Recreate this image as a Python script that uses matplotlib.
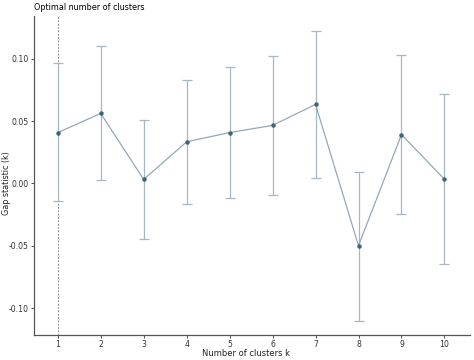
import numpy as np
from matplotlib import pyplot as plt

k = [1, 2, 3, 4, 5, 6, 7, 8, 9, 10]
gap = [0.0408, 0.0562, 0.0032, 0.0334, 0.0408, 0.0466, 0.0634, -0.0500, 0.0392, 0.0034]
upper = [0.0968, 0.1104, 0.0510, 0.0830, 0.0932, 0.1024, 0.1220, 0.0090, 0.1028, 0.0714]
lower = [-0.0144, 0.0024, -0.0444, -0.0168, -0.0118, -0.0090, 0.0046, -0.1106, -0.0248, -0.0644]
yticks = [-0.10, -0.05, 0.00, 0.05, 0.10]

gap = np.array(gap)
err = [gap - np.array(lower), np.array(upper) - gap]

fig = plt.figure(figsize=(4.74, 3.6), dpi=100)
ax = fig.add_axes([0.072, 0.07, 0.92, 0.886])

ax.axvline(1, color='#666666', linestyle=(0, (2, 2)), linewidth=0.6, zorder=1)
ax.errorbar(k, gap, yerr=err, fmt='none', ecolor='#a9b7c0', elinewidth=0.9,
            capsize=3.6, capthick=0.9, zorder=2)
ax.plot(k, gap, color='#94a8b4', linewidth=0.9, zorder=3)
ax.plot(k, gap, 'o', color='#3f6478', markersize=2.2, zorder=4)

ax.set_xlim(0.45, 10.6)
ax.set_ylim(-0.1215, 0.1345)
ax.set_xticks(k)
ax.set_yticks(yticks)
ax.set_yticklabels(['%.2f' % v for v in yticks])
ax.tick_params(labelsize=5.6, length=2.5, width=0.6, pad=1.5,
               color='#333333', labelcolor='#333333')

for side in ['top', 'right']:
    ax.spines[side].set_visible(False)
for side in ['left', 'bottom']:
    ax.spines[side].set_linewidth(0.9)
    ax.spines[side].set_color('#555555')

fig.text(0.52, 1 - 353 / 360, 'Number of clusters k', fontsize=6, ha='center', va='center',
         color='#222222')
fig.text(7 / 474, 1 - 183 / 360, 'Gap statistic (k)', fontsize=5.8, ha='center', va='center',
         rotation=90, color='#222222')
fig.text(0.072, 1 - 8 / 360, 'Optimal number of clusters', fontsize=5.8, va='center', ha='left')

plt.savefig('out.png', dpi=100)
